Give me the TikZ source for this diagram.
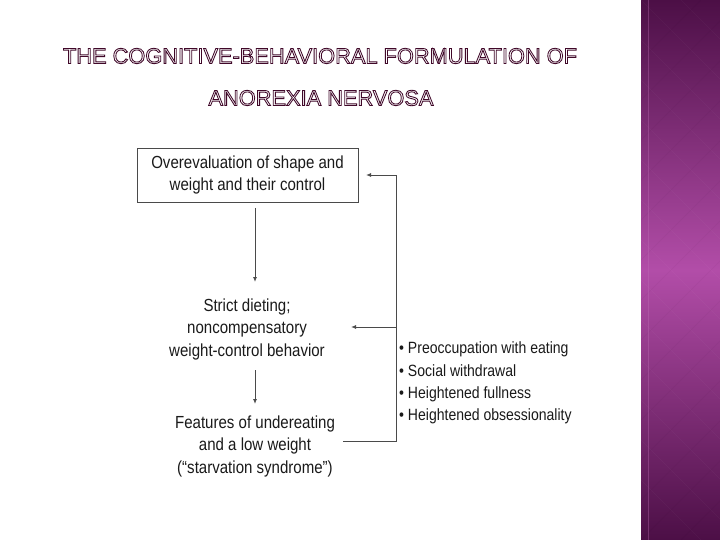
\documentclass[tikz,border=0pt]{standalone}
\usepackage{fontspec}
\setmainfont{Liberation Sans}
\newfontfamily\narrowfont[FakeStretch=0.86]{Liberation Sans}
\usetikzlibrary{arrows.meta,shadings}
\definecolor{titlecol}{HTML}{40082A}
\definecolor{linecol}{HTML}{4A4A4A}
\definecolor{txtcol}{HTML}{1A1A1A}
\definecolor{stripdark}{HTML}{4C0F46}
\definecolor{stripmid}{HTML}{B24DA8}
\newcommand{\outlinetext}[1]{\special{pdf:literal direct 0.25 0.03 0.16 RG 0.25 0.03 0.16 rg 1 Tr 0.85 w}#1\special{pdf:literal direct 0 Tr}}
\begin{document}
\begin{tikzpicture}[x=1pt,y=-1pt,
  titletext/.style={font=\fontsize{21.8}{26}\selectfont, text=titlecol, inner sep=0pt},
  difftext/.style={font=\narrowfont\fontsize{17.5}{22.5}\selectfont, text=txtcol, align=center, inner sep=0pt},
  listtext/.style={font=\narrowfont\fontsize{16.3}{22.3}\selectfont, text=txtcol, align=left, inner sep=0pt},
  conn/.style={draw=linecol, line width=0.9pt},
  arr/.style={conn, -{Latex[length=5pt,width=4pt]}}]
\useasboundingbox (0,0) rectangle (720,540);
\fill[white] (0,0) rectangle (720,540);
% right strip
\shade[top color=stripdark, bottom color=stripdark, middle color=stripmid] (641,0) rectangle (720,540);
\begin{scope}
\clip (641,0) rectangle (720,540);
\foreach \k in {-12,...,16} {
  \draw[white, opacity=0.035, line width=0.6pt] (641+40*\k,0) -- (641+40*\k+540,540);
  \draw[black, opacity=0.035, line width=0.6pt] (641+40*\k,540) -- (641+40*\k+540,0);
}
\end{scope}
\draw[stripmid!80!white, opacity=0.35, line width=1pt] (648,0) -- (648,540);
% title
\node[titletext] (t1) at (320,56) {\outlinetext{THE COGNITIVE-BEHAVIORAL FORMULATION OF}};
\node[titletext] (t2) at (321,98) {\outlinetext{ANOREXIA NERVOSA}};
% boxes
\node[difftext, draw=linecol, line width=0.9pt, minimum width=221pt, minimum height=54pt] (a) at (247.5,175) {Overevaluation of shape and\\weight and their control};
\node[difftext] (b) at (247,329) {Strict dieting;\\noncompensatory\\weight-control behavior};
\node[difftext] (c) at (255,446) {Features of undereating\\and a low weight\\(“starvation syndrome”)};
\node[listtext, anchor=west] (d) at (399,383) {•\ Preoccupation with eating\\•\ Social withdrawal\\•\ Heightened fullness\\•\ Heightened obsessionality};
% connectors
\coordinate (a1) at (255,208);
\coordinate (a2) at (255,282);
\coordinate (b1) at (255,370);
\coordinate (b2) at (255,404);
\draw[arr] (a1) -- (a2);
\draw[arr] (b1) -- (b2);
\coordinate (c0) at (343,441);
\coordinate (r1) at (396,441);
\coordinate (r2) at (396,175);
\coordinate (r3) at (396,327);
\coordinate (topTip) at (366,175);
\coordinate (midTip) at (351,327);
\draw[conn] (c0) -- (r1) -- (r2);
\draw[arr] (r2) -- (topTip);
\draw[arr] (r3) -- (midTip);
\end{tikzpicture}
\end{document}
